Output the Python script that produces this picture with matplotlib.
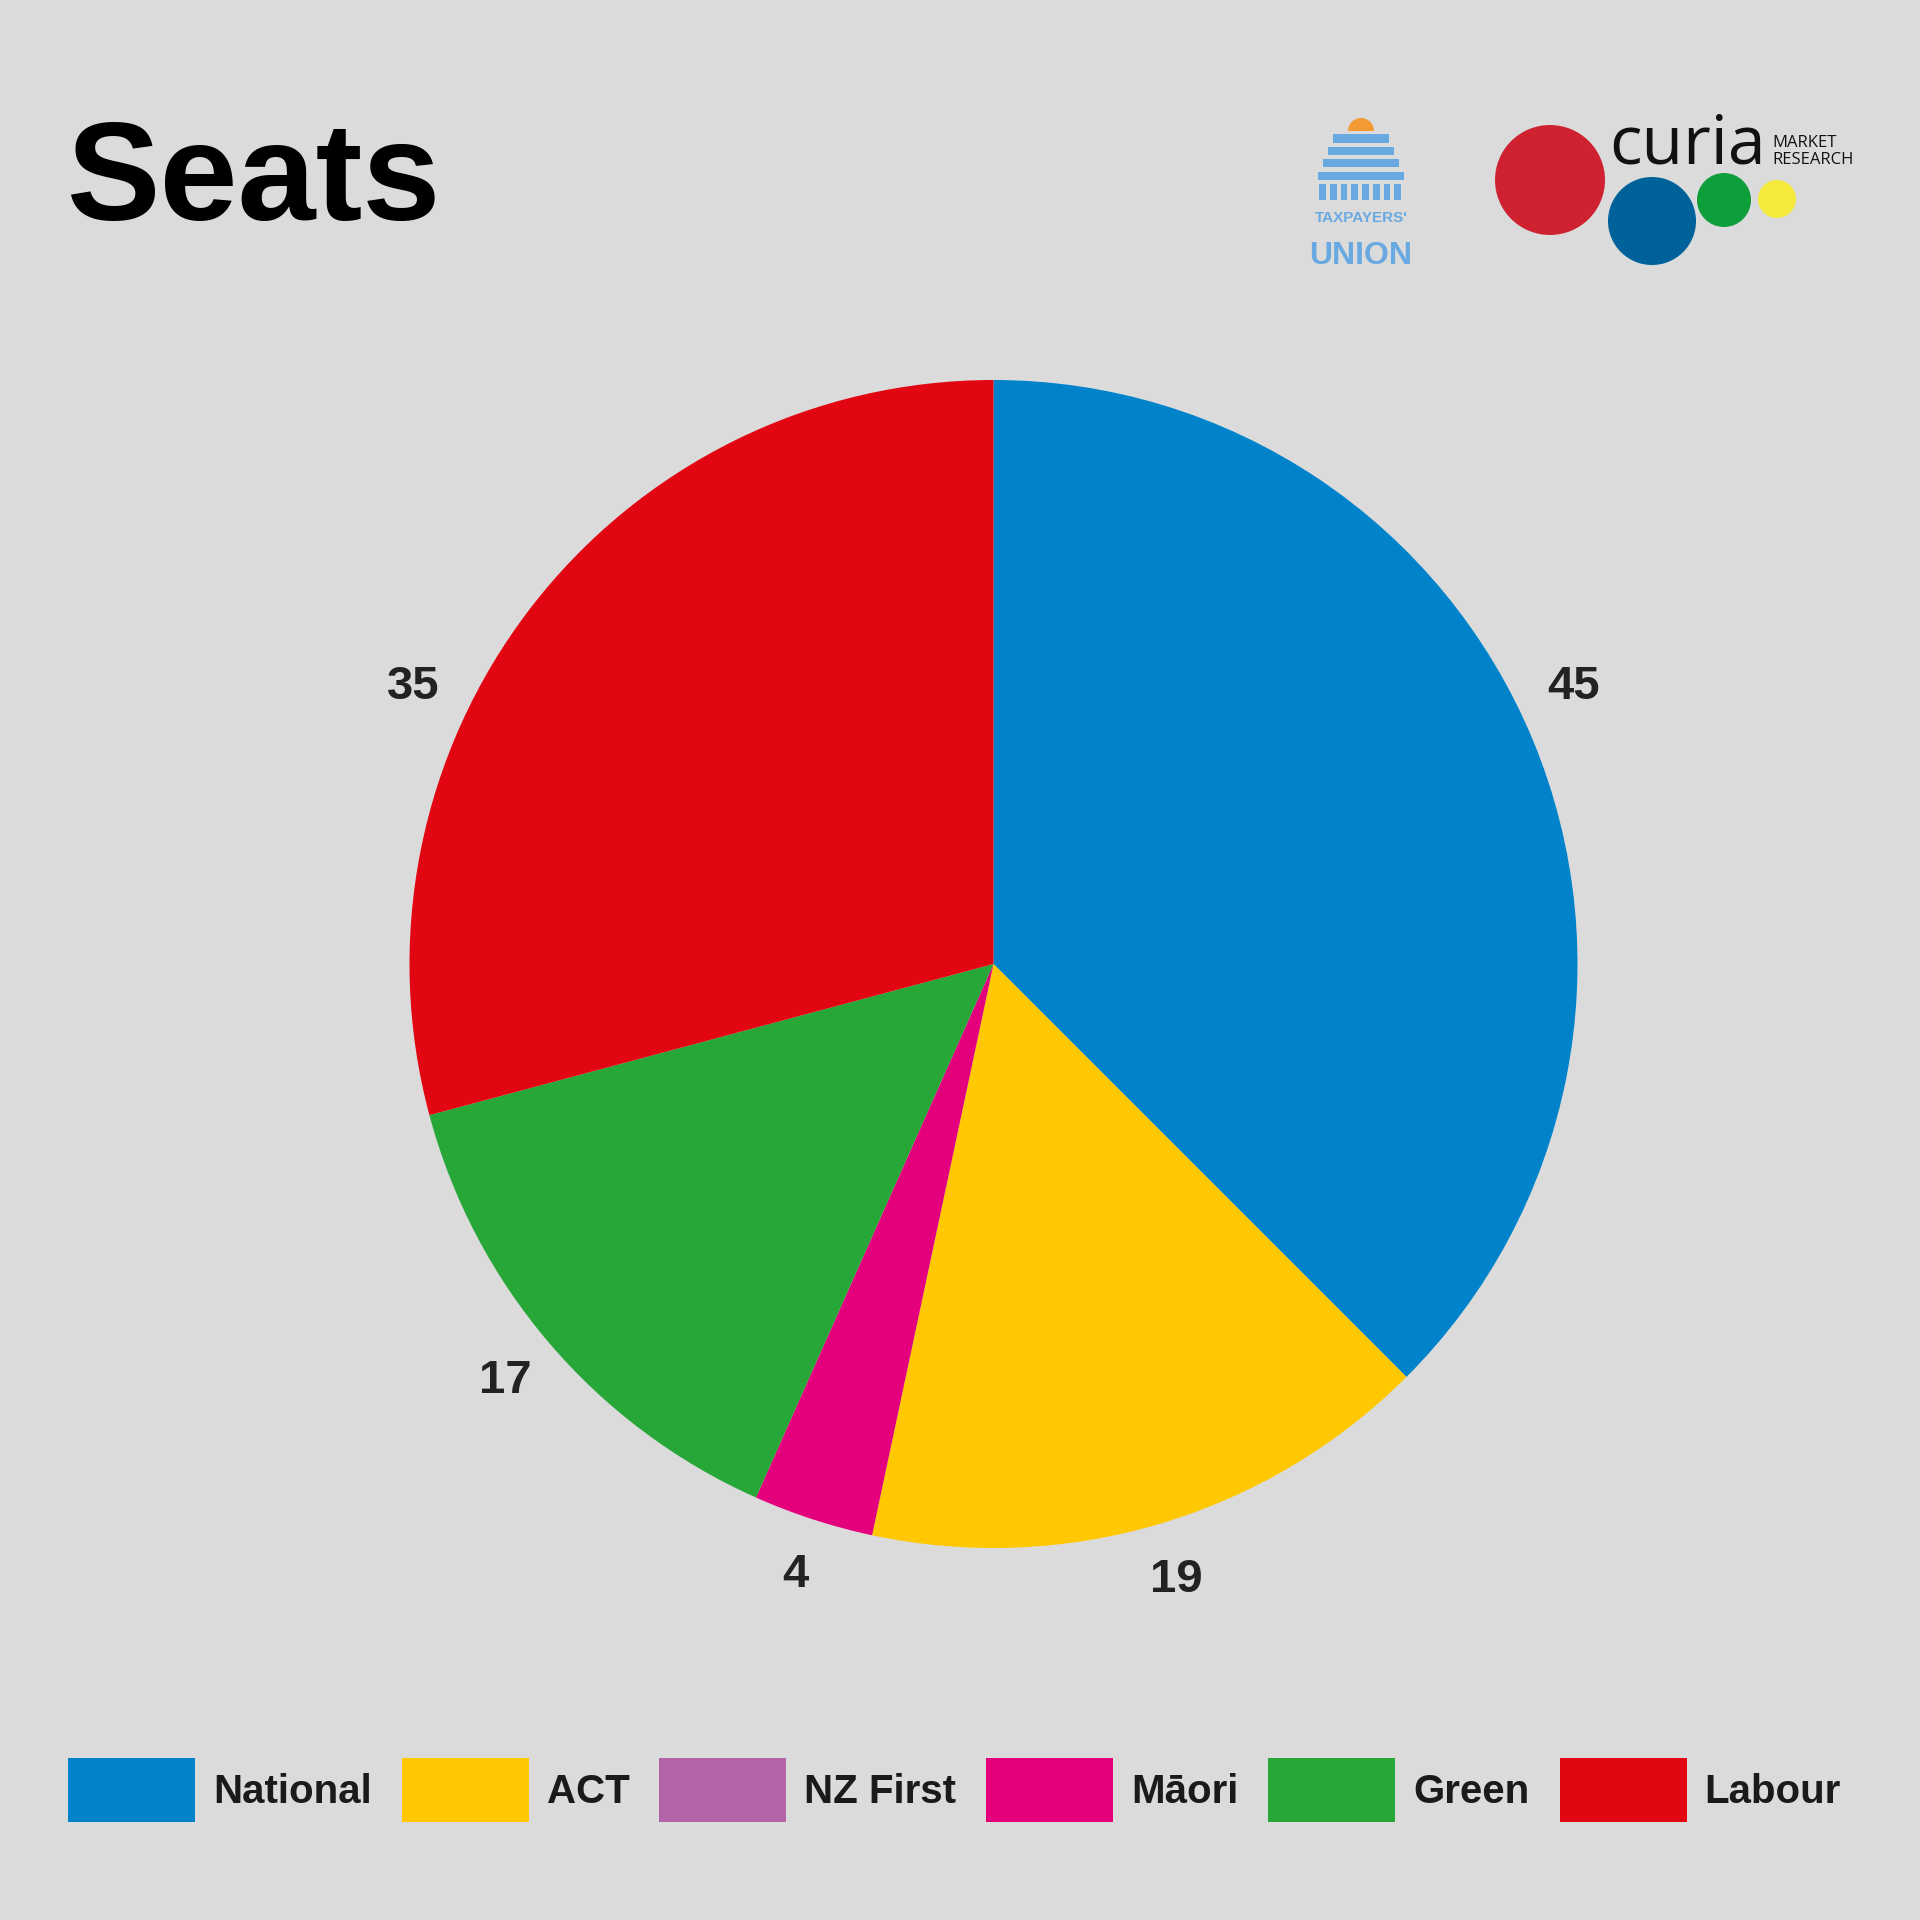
import matplotlib
matplotlib.use("Agg")
import numpy as np
import matplotlib.pyplot as plt
from matplotlib.patches import Patch, Circle, Rectangle, Wedge

parties = ["National", "ACT", "NZ First", "Māori", "Green", "Labour"]
seats = [45, 19, 0, 4, 17, 35]
colors = ["#0083CB", "#FFC800", "#B264A8", "#E4007C", "#27A737", "#E20613"]
title = "Seats"

BG = "#DBDBDB"
SANS = "Liberation Sans"

fig = plt.figure(figsize=(19.2, 19.2), dpi=100, facecolor=BG)

# Title
fig.text(66 / 1920, 1 - 220 / 1920, title, fontsize=101, fontweight="bold",
         family=SANS, color="#000000", va="baseline", ha="left")

# Pie
cx, cy, r = 993.5 / 1920, 1 - 964 / 1920, 584 / 1920
ax = fig.add_axes([cx - r, cy - r, 2 * r, 2 * r])
ax.set_facecolor("none")
vals = [v for v in seats if v > 0]
cols = [c for v, c in zip(seats, colors) if v > 0]
labs = [str(v) for v in vals]
wedges, texts = ax.pie(vals, colors=cols, labels=labs, startangle=90, counterclock=False,
                       radius=1, labeldistance=1.1,
                       textprops=dict(fontsize=34, fontweight="bold", family=SANS, color="#222222"))
# label placement: big slices get their label placed near the horizontal
for w, t in zip(wedges, texts):
    span = abs(w.theta2 - w.theta1)
    mid = np.deg2rad((w.theta1 + w.theta2) / 2)
    ang = np.rad2deg(np.arctan2(np.sin(mid), np.cos(mid)))
    dist = 1.1
    if span > 100:
        off = 25.5
        sgn = 1 if ang >= 0 else -1
        ang = sgn * (180 - off) if abs(ang) > 90 else sgn * off
    a = np.deg2rad(ang)
    t.set_position((dist * np.cos(a), dist * np.sin(a)))
    t.set_ha("center")
    t.set_va("center")
ax.set_xlim(-1, 1)
ax.set_ylim(-1, 1)
ax.set_aspect("equal")
ax.axis("off")

# Legend
fs_px = 40.3
handles = [Patch(facecolor=c, edgecolor="none", label=p) for p, c in zip(parties, colors)]
fig.legend(handles=handles, loc="center left", bbox_to_anchor=(68 / 1920, 1 - 1790 / 1920),
           ncol=6, frameon=False, borderpad=0, borderaxespad=0,
           prop=dict(family=SANS, weight="bold", size=29),
           handlelength=127 / fs_px, handleheight=2.1, handletextpad=18 / fs_px,
           columnspacing=30 / fs_px, labelcolor="#1a1a1a")

# Logos (decorative overlay, pixel coordinates)
lx = fig.add_axes([0, 0, 1, 1], zorder=5)
lx.set_xlim(0, 1920)
lx.set_ylim(1920, 0)
lx.axis("off")
tu_blue = "#68A9E2"
# Taxpayers' Union
lx.add_patch(Wedge((1361, 131), 13, 180, 360, facecolor="#F39A35", edgecolor="none"))
for (x0, x1, y0, y1) in [(1333, 1389, 134, 143), (1328, 1394, 147, 155),
                         (1323, 1399, 159, 167), (1318, 1404, 172, 180)]:
    lx.add_patch(Rectangle((x0, y0), x1 - x0, y1 - y0, facecolor=tu_blue, edgecolor="none"))
ncolw = 8
step = (1404 - 1318) / ncolw
for i in range(ncolw):
    lx.add_patch(Rectangle((1318 + i * step + 1, 184), step - 4, 16, facecolor=tu_blue, edgecolor="none"))
lx.text(1361, 222, "TAXPAYERS'", fontsize=11, fontweight="bold", family=SANS,
        color=tu_blue, ha="center", va="baseline")
lx.text(1361, 264, "UNION", fontsize=23, fontweight="bold", family=SANS,
        color=tu_blue, ha="center", va="baseline")
# Curia
lx.add_patch(Circle((1550, 180), 55, facecolor="#CE2231", edgecolor="none"))
lx.add_patch(Circle((1652, 221), 44, facecolor="#00629B", edgecolor="none"))
lx.add_patch(Circle((1724, 200), 27, facecolor="#0E9E3A", edgecolor="none"))
lx.add_patch(Circle((1777, 199), 19, facecolor="#F5E93B", edgecolor="none"))
lx.text(1609, 163, "curia", fontsize=49, family="Open Sans", color="#111111",
        ha="left", va="baseline")
lx.text(1772, 147, "MARKET", fontsize=12, family="Open Sans", color="#111111",
        ha="left", va="baseline")
lx.text(1772, 164, "RESEARCH", fontsize=12, family="Open Sans", color="#111111",
        ha="left", va="baseline")

fig.savefig("out.png", dpi=100, facecolor=BG)
